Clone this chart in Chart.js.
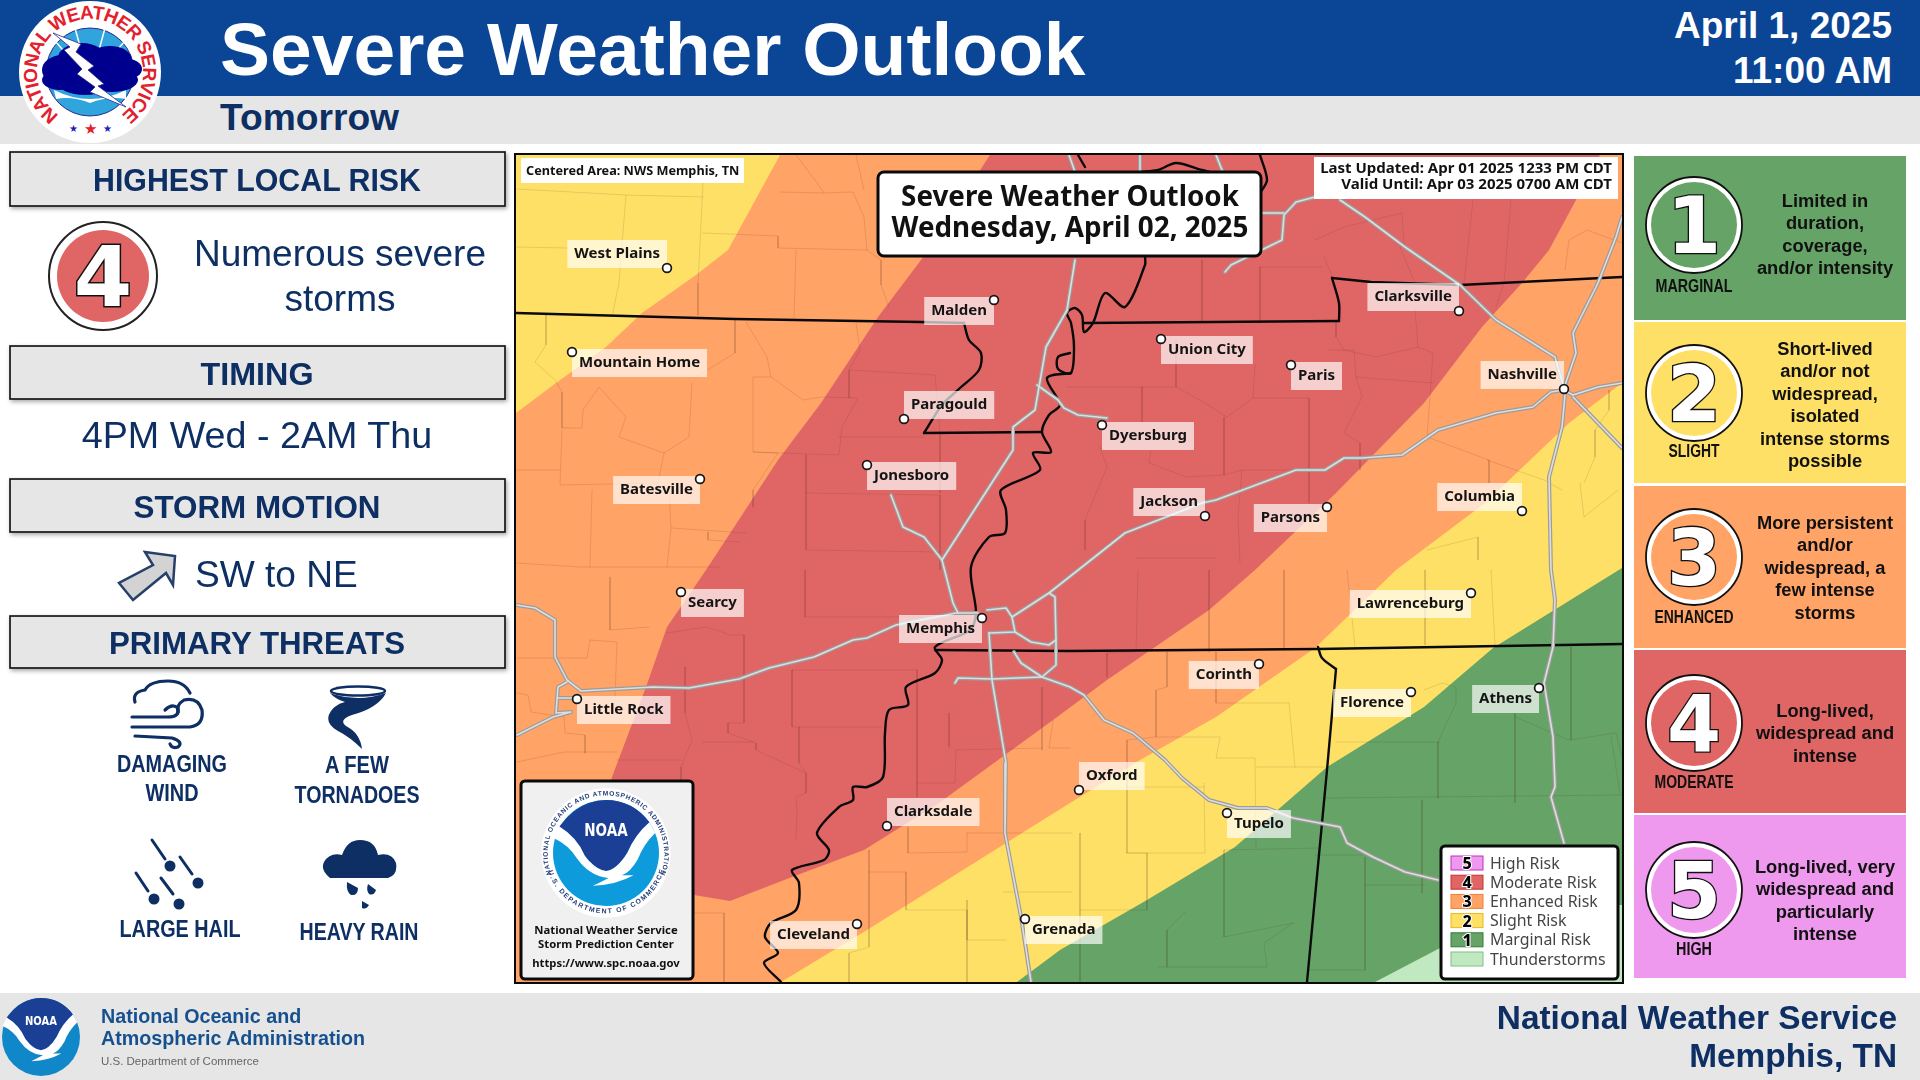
<!DOCTYPE html>
<html>
<head>
<meta charset="utf-8">
<title>Severe Weather Outlook</title>
<script src="https://cdn.jsdelivr.net/npm/chart.js@4"></script>
<style>
html, body { margin: 0; padding: 0; background: #fff; }
#page { position: relative; width: 1920px; height: 1080px; overflow: hidden; }
#mapWrap { position: absolute; left: 516px; top: 155px; width: 1106px; height: 827px; }
#overlay { position: absolute; left: 0; top: 0; pointer-events: none; }
text { font-family: "Liberation Sans", sans-serif; }
.narrow { font-weight: 700; }
.noto { font-family: "Noto Sans", sans-serif; }
</style>
</head>
<body>
<div id="page">
  <div id="mapWrap"><canvas id="mapChart" width="1106" height="827"></canvas></div>
  <svg id="overlay" width="1920" height="1080" viewBox="0 0 1920 1080"></svg>
</div>
<script>
// risk areas, in map units
const slightRisk = [[516,155],[1622,155],[1622,568],[1493,648],[1424,707],[1327,767],[1235,847],[1147,900],[1060,950],[1017,982],[516,982]];
const enhancedRisk = [[780,155],[728,250],[696,275],[642,313],[606,347],[556,383],[516,413],[516,982],[781,982],[867,930],[1070,803],[1140,760],[1216,717],[1315,648],[1396,570],[1485,503],[1569,423],[1622,383],[1622,155]];
const moderateRisk = [[990,155],[921,260],[878,317],[821,403],[778,460],[706,570],[667,627],[646,687],[612,777],[590,860],[640,885],[694,895],[730,901],[792,877],[864,850],[939,803],[1053,720],[1107,680],[1209,610],[1255,570],[1336,493],[1424,403],[1482,327],[1522,283],[1549,250],[1576,200],[1600,155]];
const marginalRisk = [[516,155],[1622,155],[1622,982],[516,982]];
const thunderArea = [[1375,982],[1442,947],[1520,905],[1622,905],[1622,982]];

const stateLines = [
  [[516,313],[735,319],[921,322],[964,323]],
  [[924,433],[1042,432]],
  [[1084,323],[1339,321]],
  [[1332,278],[1371,282],[1460,285],[1622,277]],
  [[935,650],[1070,651],[1318,649],[1622,644]],
  [[1336,669],[1327,770],[1307,982]]
];
const riverLines = [
  [[964,323],[969,340],[981,353],[979,370],[960,388],[942,405],[924,433]],
  [[1339,321],[1339,303],[1332,278]],
  [[1318,647],[1322,658],[1336,669]],
  [[1260,155],[1267,180],[1260,193]],
  [[1078,155],[1085,167]],
  [[1140,172],[1158,170],[1176,163],[1202,170],[1210,172]],
  [[1145,256],[1145,265],[1125,307],[1105,293],[1093,323],[1084,332],[1082,315],[1075,308],[1067,313],[1071,323],[1074,347],[1071,373],[1058,369],[1058,357],[1070,353]],
  [[1071,373],[1047,378],[1060,405],[1049,415],[1042,432],[1051,452],[1033,453],[1040,470],[1001,490],[1006,510],[1005,533],[989,537],[971,567],[976,613],[970,630],[935,647],[942,660],[935,673],[906,687],[908,705],[889,710],[885,733],[883,777],[867,787],[853,787],[853,800],[839,807],[817,833],[829,850],[824,860],[792,870],[799,883],[796,910],[771,923],[765,937],[778,953],[764,963],[781,982]]
];

const highways = [
  [[517,605],[535,608],[555,620],[555,657],[567,680],[581,691],[653,687],[689,688],[739,679],[769,668],[814,657],[853,640],[867,638],[896,625],[956,613],[978,613]],
  [[1012,617],[1049,593],[1082,567],[1125,533],[1202,503],[1216,500],[1296,470],[1325,470],[1344,458],[1362,458],[1402,455],[1438,430],[1496,413],[1533,407],[1551,392],[1564,390],[1573,395],[1598,387],[1622,383]],
  [[1564,388],[1576,353],[1573,333],[1598,283],[1616,237],[1622,217]],
  [[1564,388],[1555,357],[1496,320],[1460,285],[1405,247],[1365,217],[1340,200]],
  [[1315,197],[1296,202],[1284,215],[1282,240],[1231,265],[1225,272]],
  [[1262,213],[1284,213]],
  [[1565,395],[1562,427],[1549,477],[1551,570],[1555,600],[1553,647],[1544,683],[1553,737],[1555,787],[1551,797],[1564,843]],
  [[1573,397],[1622,448]],
  [[1042,677],[1070,687],[1084,695],[1104,720],[1133,733],[1165,760],[1182,778],[1209,800],[1238,808],[1267,808],[1293,818],[1340,827],[1347,843],[1373,857],[1405,872],[1438,880]],
  [[989,633],[992,680],[1006,763],[1005,833],[1021,917],[1031,982]],
  [[987,610],[1006,608],[1012,617],[1015,632],[989,633]],
  [[1015,632],[1031,642],[1049,645],[1056,640],[1055,597],[1049,593]],
  [[1056,640],[1056,665],[1042,677],[1021,663],[1014,652]],
  [[955,683],[958,678],[992,679],[1042,677]],
  [[942,560],[953,603],[958,613]],
  [[942,560],[1013,450],[1013,427],[1035,410],[1046,347],[1067,310],[1075,260]],
  [[1069,155],[1075,172]],
  [[1140,155],[1140,170]],
  [[1216,155],[1222,170]],
  [[1037,385],[1058,400],[1064,408],[1078,415],[1107,418]],
  [[891,495],[903,527],[924,537],[942,560]],
  [[517,735],[553,717],[571,712],[556,713],[558,687],[567,682]],
  [[558,698],[574,698]]
];

const countyLines = [
  [[517,189],[626,195],[703,197]], [[626,195],[619,283],[612,317]], [[703,183],[698,283],[698,315]],
  [[517,247],[567,248]], [[703,233],[778,236],[778,248],[867,250],[881,260],[881,285],[889,307]],
  [[780,192],[824,193],[853,192],[864,217],[867,250]], [[796,250],[794,318]], [[856,155],[864,190]],
  [[796,155],[815,180],[824,193]], [[546,315],[546,345],[535,362],[555,380],[562,392],[562,428],[582,428],[583,410],[599,387],[626,417],[619,437],[664,453],[689,437],[692,383]],
  [[735,320],[735,353],[696,377]], [[746,322],[767,357],[771,377],[803,400],[821,397],[858,398],[842,427],[839,455],[753,452],[753,377],[771,377]],
  [[849,370],[935,375],[940,433],[940,493]], [[856,323],[860,350],[849,370],[849,398]], [[839,437],[924,437]],
  [[806,455],[806,493],[940,495],[940,570]], [[806,493],[806,550],[942,552]], [[753,452],[778,453],[753,490],[753,507]],
  [[664,453],[658,483],[560,485],[562,430]], [[517,470],[560,470]], [[592,490],[590,567]],
  [[669,490],[671,528],[746,533]], [[708,532],[708,540],[739,542]], [[517,563],[581,567],[720,567]], [[671,528],[667,567]],
  [[610,577],[610,630],[649,627]], [[590,640],[617,642],[615,697]],
  [[667,633],[706,627],[731,635],[744,635],[744,677],[744,723],[728,723],[728,733],[756,743],[756,750],[806,773],[806,793],[796,797],[797,810],[796,840]],
  [[805,570],[805,617],[924,617]], [[792,670],[792,727],[881,727]], [[792,670],[917,670]], [[917,670],[917,797]],
  [[799,727],[799,763],[806,773]], [[685,667],[685,713],[692,740],[681,767],[681,783]], [[703,742],[753,742]],
  [[517,658],[587,658],[590,640]], [[517,693],[528,695],[531,712],[564,717],[565,733],[585,735],[585,753]],
  [[517,762],[564,752],[617,752]], [[681,760],[617,760]],
  [[908,827],[908,853],[967,852],[967,833]], [[869,872],[906,872],[906,910],[967,910],[967,940],[1006,940]],
  [[869,850],[869,947],[849,953],[849,982]], [[1042,748],[956,750],[955,783],[917,783]], [[949,713],[949,747]],
  [[967,833],[1072,833]], [[1003,892],[1072,892]], [[1042,687],[1042,750]], [[1053,720],[1049,748],[1070,748]],
  [[967,900],[967,982]], [[724,913],[724,982]], [[694,913],[724,913]],
  [[1209,570],[1209,652]], [[1284,570],[1284,650]], [[1347,570],[1355,647]], [[1425,570],[1425,645]], [[1491,570],[1495,645]],
  [[1138,570],[1136,652],[1107,653],[1107,677]],
  [[1167,652],[1167,687],[1156,690],[1156,737],[1127,740],[1127,853],[1147,853],[1147,910],[1080,910]],
  [[1216,652],[1216,703],[1289,703],[1295,767]], [[1220,737],[1156,737]], [[1220,738],[1216,758],[1255,758],[1256,848]],
  [[1204,787],[1127,787]], [[1204,783],[1205,853],[1127,853]], [[1256,767],[1327,767]], [[1224,850],[1318,848]],
  [[1224,850],[1224,937],[1293,923]], [[1185,912],[1167,930],[1167,967]], [[1158,967],[1267,967],[1264,943],[1293,923]],
  [[1080,833],[1080,982]], [[1325,798],[1622,795]], [[1438,742],[1438,798]], [[1440,742],[1336,742]],
  [[1438,742],[1456,703],[1456,687],[1442,683],[1424,690]], [[1515,713],[1515,803]],
  [[1515,717],[1569,740],[1616,733],[1622,757]], [[1571,647],[1571,740]], [[1611,737],[1620,793]], [[1422,800],[1422,893]],
  [[1365,857],[1365,970]], [[1315,855],[1362,855]], [[1365,885],[1424,885]], [[1307,970],[1365,970]],
  [[1260,267],[1260,322]], [[1260,267],[1322,267]], [[1202,260],[1202,322]], [[1315,240],[1344,227],[1402,213],[1404,247]],
  [[1324,257],[1333,278]], [[1400,247],[1415,283]], [[1473,200],[1464,283]], [[1511,200],[1504,283],[1496,307]],
  [[1415,310],[1418,347],[1433,353],[1429,410],[1427,437],[1489,460],[1489,483]],
  [[1336,322],[1336,337],[1344,350],[1376,357],[1418,347]], [[1329,350],[1354,350],[1356,377],[1433,383]],
  [[1356,377],[1362,397],[1344,433],[1360,443],[1360,470]], [[1176,340],[1176,387],[1067,387]],
  [[1255,365],[1253,398],[1309,398],[1309,503]], [[1176,387],[1205,403],[1227,417],[1253,398]], [[1142,387],[1142,422]],
  [[1224,417],[1224,475],[1242,470],[1315,470]], [[1151,450],[1149,463],[1187,477],[1224,475]],
  [[1100,447],[1107,467],[1085,520],[1085,550]], [[1136,558],[1216,558]], [[1242,470],[1238,517],[1240,563]],
  [[1427,550],[1478,537],[1478,560]], [[1487,460],[1544,480],[1562,490]], [[1580,483],[1584,517],[1618,490]],
  [[1595,430],[1595,457],[1584,483]], [[1565,270],[1569,240],[1587,230],[1622,243]], [[1609,390],[1609,410],[1595,430]]
];

const cityNames = ['West Plains','Malden','Mountain Home','Paragould','Batesville','Jonesboro','Searcy','Little Rock','Memphis','Clarksdale','Cleveland','Grenada','Union City','Paris','Clarksville','Nashville','Dyersburg','Jackson','Parsons','Columbia','Lawrenceburg','Corinth','Florence','Athens','Oxford','Tupelo'];
const cityX = [667,994,572,904,700,867,681,577,982,887,857,1025,1161,1291,1459,1564,1102,1205,1327,1522,1471,1259,1411,1539,1079,1227];
const cityY = [268,300,352,419,479,465,592,699,618,826,924,919,339,365,311,389,425,516,507,511,593,664,692,688,790,813];
const citySide = ['nw','sw','se','ne','sw','se','se','se','sw','ne','sw','se','se','se','nw','nw','se','nw','sw','nw','sw','sw','sw','sw','ne','se'];

const RISK_COLORS = { tstm: '#C1E9C1', mrgl: '#66A366', slgt: '#FFE066', enh: '#FFA366', mdt: '#E06666', high: '#EE99EE' };
const NAVY = '#0D2F63';

function toPoints(list) {
    return list.map(p => ({ x: p[0], y: p[1] }));
}

function areaDataset(list, color) {
    return { data: toPoints(list), fill: 'shape', backgroundColor: color, borderWidth: 0, pointRadius: 0, tension: 0 };
}

function lineDataset(list, color, width, tension) {
    return { data: toPoints(list), fill: false, borderColor: color, borderWidth: width, pointRadius: 0, tension: tension || 0, borderCapStyle: 'round', borderJoinStyle: 'round' };
}

// painted bottom to top
const layers = [];
layers.push(areaDataset(marginalRisk, RISK_COLORS.mrgl));
layers.push(areaDataset(thunderArea, RISK_COLORS.tstm));
layers.push(areaDataset(slightRisk, RISK_COLORS.slgt));
layers.push(areaDataset(enhancedRisk, RISK_COLORS.enh));
layers.push(areaDataset(moderateRisk, RISK_COLORS.mdt));
countyLines.forEach(l => layers.push(lineDataset(l, 'rgba(60,40,20,0.13)', 1)));
stateLines.forEach(l => layers.push(lineDataset(l, '#0a0a0a', 2.4)));
riverLines.forEach(l => layers.push(lineDataset(l, '#0a0a0a', 2.4, 0.3)));
highways.forEach(l => layers.push(lineDataset(l, '#9c9c9c', 4)));
highways.forEach(l => layers.push(lineDataset(l, '#dedede', 1.6)));
layers.push({
    id: 'cities',
    data: cityX.map((x, i) => ({ x: x, y: cityY[i] })),
    showLine: false,
    fill: false,
    pointRadius: 4.4,
    pointBackgroundColor: '#fff',
    pointBorderColor: '#161616',
    pointBorderWidth: 1.7
});
layers.forEach((d, i) => { d.order = layers.length - i; });

const cityLabels = {
    id: 'cityLabels',
    beforeDatasetDraw(chart, args) {
        if (chart.data.datasets[args.index].id !== 'cities') return;
        const ctx = chart.ctx;
        const xs = chart.scales.x, ys = chart.scales.y;
        ctx.save();
        ctx.font = '700 15px "Noto Sans"';
        ctx.textBaseline = 'middle';
        ctx.textAlign = 'left';
        cityNames.forEach((name, i) => {
            const px = xs.getPixelForValue(cityX[i]), py = ys.getPixelForValue(cityY[i]);
            const w = ctx.measureText(name).width + 14, h = 28;
            const left = citySide[i].includes('w') ? px - w : px;
            const top = citySide[i].includes('n') ? py - h : py - 3;
            ctx.fillStyle = 'rgba(255,255,255,0.68)';
            ctx.fillRect(left, top, w, h);
            ctx.fillStyle = '#141414';
            ctx.fillText(name, left + 7, top + h / 2);
        });
        ctx.restore();
    }
};

new Chart(document.getElementById('mapChart'), {
    type: 'line',
    data: { datasets: layers },
    options: {
        responsive: false,
        animation: false,
        devicePixelRatio: 1,
        parsing: { xAxisKey: 'x', yAxisKey: 'y' },
        layout: { padding: 0, autoPadding: false },
        plugins: { legend: { display: false }, tooltip: { enabled: false } },
        scales: {
            x: { type: 'linear', display: false, min: 516, max: 1622 },
            y: { type: 'linear', display: false, min: 155, max: 982, reverse: true }
        }
    },
    plugins: [cityLabels]
});

// everything around the map
const riskPanels = [
    { top: 156, bottom: 320, color: RISK_COLORS.mrgl, digit: '1', name: 'MARGINAL', nameW: 77, cy: 225, nameY: 292, textY: 207, lines: ['Limited in','duration,','coverage,','and/or intensity'] },
    { top: 322, bottom: 483, color: RISK_COLORS.slgt, digit: '2', name: 'SLIGHT', nameW: 51, cy: 393, nameY: 457, textY: 355, lines: ['Short-lived','and/or not','widespread,','isolated','intense storms','possible'] },
    { top: 486, bottom: 648, color: RISK_COLORS.enh, digit: '3', name: 'ENHANCED', nameW: 79, cy: 557, nameY: 623, textY: 529, lines: ['More persistent','and/or','widespread, a','few intense','storms'] },
    { top: 650, bottom: 813, color: RISK_COLORS.mdt, digit: '4', name: 'MODERATE', nameW: 79, cy: 723, nameY: 788, textY: 717, lines: ['Long-lived,','widespread and','intense'] },
    { top: 815, bottom: 978, color: RISK_COLORS.high, digit: '5', name: 'HIGH', nameW: 36, cy: 890, nameY: 955, textY: 873, lines: ['Long-lived, very','widespread and','particularly','intense'] }
];
const legendRows = [
    ['5', 'High Risk', RISK_COLORS.high, '#c030c0'],
    ['4', 'Moderate Risk', RISK_COLORS.mdt, '#c83030'],
    ['3', 'Enhanced Risk', RISK_COLORS.enh, '#f08030'],
    ['2', 'Slight Risk', RISK_COLORS.slgt, '#e8b820'],
    ['1', 'Marginal Risk', RISK_COLORS.mrgl, '#2f8030'],
    ['', 'Thunderstorms', RISK_COLORS.tstm, '#80c080']
];
const sideHeads = [['HIGHEST LOCAL RISK', 152, 206, 328], ['TIMING', 346, 399, 113], ['STORM MOTION', 479, 532, 247], ['PRIMARY THREATS', 616, 668, 296]];
const threatLabels = [
    ['DAMAGING', 172, 772, 110], ['WIND', 172, 801, 53], ['A FEW', 357, 773, 64], ['TORNADOES', 357, 803, 125],
    ['LARGE HAIL', 180, 937, 121], ['HEAVY RAIN', 359, 940, 119]
];

function riskBadge(cx, cy, r, digit, color) {
    return `<circle cx="${cx}" cy="${cy}" r="${r}" fill="#fff" stroke="#111" stroke-width="1.8"/>
      <circle cx="${cx}" cy="${cy}" r="${r - 5}" fill="${color}"/>
      <text x="${cx}" y="${cy + r * 0.58}" text-anchor="middle" font-size="${r * 1.62}" stroke="#111" stroke-width="${r * 0.055}" paint-order="stroke"
        fill="#fff" style="font-family:'DejaVu Sans';font-weight:700">${digit}</text>`;
}

function noaaLogo(cx, cy, r, withRing) {
    const s = r / 100;
    let ring = '';
    if (withRing) {
        ring = `<circle r="122" fill="#fff"/>
          <path id="ringTop" d="M -103 40 A 110 110 0 1 1 103 40" fill="none"/>
          <path id="ringBot" d="M -112 25 A 115 115 0 0 0 112 25" fill="none"/>
          <text font-size="12.5" fill="#27407a" font-weight="700"><textPath href="#ringTop" textLength="425">NATIONAL OCEANIC AND ATMOSPHERIC ADMINISTRATION</textPath></text>
          <text font-size="13" fill="#27407a" font-weight="700"><textPath href="#ringBot" startOffset="10" textLength="290">U.S. DEPARTMENT OF COMMERCE</textPath></text>`;
    }
    return `<g transform="translate(${cx},${cy}) scale(${s})">${ring}
      <circle r="100" fill="${withRing ? '#0d9bdc' : '#1087c9'}"/>
      <path d="M-88,-50 Q-50,-100 0,-100 Q50,-100 82,-58 Q55,-35 40,0 Q20,32 0,34 Q-20,32 -40,5 Q-55,-30 -88,-50 Z" fill="#1b3f94"/>
      <path d="M-98,-28 L-88,-50 Q-55,-30 -40,5 Q-20,32 0,34 Q20,32 40,0 Q55,-35 82,-58 L93,-38 Q70,-15 60,12 Q45,38 30,42 L52,42 Q20,60 -25,62 Q0,50 5,47 Q-30,45 -55,10 Q-70,-15 -98,-28 Z" fill="#fff"/>
      <text y="-32" text-anchor="middle" font-size="33" font-weight="700" fill="#fff" style="font-family:'DejaVu Sans'" textLength="82" lengthAdjust="spacingAndGlyphs">NOAA</text>
    </g>`;
}

let html = `
<defs><filter id="boxShadow" x="-5%" y="-20%" width="110%" height="150%"><feDropShadow dx="1.5" dy="2" stdDeviation="2" flood-color="#000" flood-opacity="0.35"/></filter></defs>
<rect x="0" y="0" width="1920" height="96" fill="#0B4595"/>
<rect x="0" y="96" width="1920" height="48" fill="#E6E6E6"/>
<rect x="0" y="993" width="1920" height="87" fill="#E6E6E6"/>
<rect x="515" y="154" width="1108" height="829" fill="none" stroke="#0a0a0a" stroke-width="2"/>

<g transform="translate(90,72)">
  <circle r="71" fill="#fff"/>
  <path id="nwsArc" d="M -31 43 A 53 53 0 1 1 31 43" fill="none"/>
  <text font-size="19" font-weight="700" fill="#E4202C"><textPath href="#nwsArc" textLength="266">NATIONAL WEATHER SERVICE</textPath></text>
  <circle r="44" fill="#2FA4DD" stroke="#2b2b8c" stroke-width="1"/>
  <path d="M-15,-44 L-9,-22 M15,-44 L9,-22 M-34,-30 L-22,-16 M34,-30 L22,-16" stroke="#fff" stroke-width="1.5"/>
  <path d="M-36,18 Q0,36 36,18 L36,27 Q18,24 0,31 Q-18,24 -34,27 Z" fill="#fff"/>
  <g fill="#00008F"><ellipse cx="-28" cy="-2" rx="20" ry="15"/><ellipse cx="-8" cy="-14" rx="24" ry="15"/><ellipse cx="20" cy="-12" rx="22" ry="14"/><ellipse cx="38" cy="-3" rx="14" ry="10"/><ellipse cx="-30" cy="8" rx="18" ry="10"/><ellipse cx="-5" cy="10" rx="28" ry="13"/><ellipse cx="22" cy="8" rx="26" ry="12"/></g>
  <path d="M-37,-39 L-9,-28 L-14,-20 L4,-6 L-2,-2 L14,12 L8,14 L36,35 L0,20 L5,15 L-13,2 L-8,-3 L-26,-22 L-20,-25 Z" fill="#fff" stroke="#2b2b8c" stroke-width="0.8"/>
  <text x="-17" y="60" font-size="10" fill="#2020b0" text-anchor="middle">★</text>
  <text x="-0" y="62" font-size="15" fill="#E4202C" text-anchor="middle">★</text>
  <text x="17" y="60" font-size="10" fill="#2020b0" text-anchor="middle">★</text>
</g>

<text x="220" y="75" font-size="75" font-weight="700" fill="#fff">Severe Weather Outlook</text>
<text x="220" y="130" font-size="37.2" font-weight="700" fill="${NAVY}">Tomorrow</text>
<text x="1892" y="38" font-size="37" font-weight="700" fill="#fff" text-anchor="end">April 1, 2025</text>
<text x="1892" y="83" font-size="37" font-weight="700" fill="#fff" text-anchor="end">11:00 AM</text>

<g transform="translate(103,276)">
  <circle r="54" fill="#fff" stroke="#222" stroke-width="2"/><circle r="46" fill="${RISK_COLORS.mdt}"/>
  <text y="30" text-anchor="middle" font-size="84" stroke="#111" stroke-width="3" paint-order="stroke" fill="#fff" style="font-family:'DejaVu Sans';font-weight:700">4</text>
</g>
<text x="340" y="266" font-size="37" fill="${NAVY}" text-anchor="middle">Numerous severe</text>
<text x="340" y="311" font-size="37" fill="${NAVY}" text-anchor="middle">storms</text>
<text x="257" y="448" font-size="37.7" fill="${NAVY}" text-anchor="middle">4PM Wed - 2AM Thu</text>
<polygon points="145,552 175,556 173,585 166,573 133,600 119,583 153,565" fill="#D3D3D3" stroke="#26406b" stroke-width="2.5"/>
<text x="195" y="587" font-size="37.1" fill="${NAVY}">SW to NE</text>

<g fill="none" stroke="${NAVY}" stroke-width="3.2" stroke-linecap="round">
  <path d="M135,702 Q132,692 145,690 Q150,681 168,681 Q184,681 190,693"/>
  <path d="M132,717 L168,717 Q180,717 178,708 Q172,703 165,710"/>
  <path d="M132,727 L190,727 Q204,725 202,710 Q198,697 184,700 Q176,705 178,712"/>
  <path d="M135,736 L172,738 Q184,742 178,747 Q172,749 170,744"/>
</g>
<g fill="${NAVY}">
  <ellipse cx="358" cy="691" rx="27" ry="4.5" fill="none" stroke="${NAVY}" stroke-width="2.5"/>
  <path d="M330,693 Q358,703 386,693 Q378,708 352,715 Q338,720 346,726 Q360,733 362,749 Q350,737 338,731 Q323,722 331,711 Q336,704 345,702 Q335,699 330,693 Z"/>
  <circle cx="170" cy="866" r="5.5"/><circle cx="198" cy="883" r="5.5"/><circle cx="154" cy="899" r="5.5"/><circle cx="179" cy="904" r="5.5"/>
  <path d="M330,878 Q320,870 324,862 Q330,852 342,855 Q347,840 360,840 Q375,840 378,855 Q392,852 396,863 Q398,875 388,878 Z"/>
  <path d="M347,882 L358,888 Q358,896 351,895 Q346,892 347,882 Z M368,884 L376,890 Q374,896 369,894 Q366,890 368,884 Z M362,901 L369,905 Q366,910 362,908 Z"/>
</g>
<g stroke="${NAVY}" stroke-width="3" stroke-linecap="round">
  <line x1="152" y1="840" x2="165" y2="859"/><line x1="180" y1="857" x2="192" y2="874"/><line x1="136" y1="873" x2="148" y2="891"/><line x1="161" y1="878" x2="173" y2="894"/>
</g>

<text x="101" y="1023" font-size="19.7" font-weight="700" fill="#15508F">National Oceanic and</text>
<text x="101" y="1045" font-size="19.7" font-weight="700" fill="#15508F">Atmospheric Administration</text>
<text x="101" y="1065" font-size="11.5" fill="#666">U.S. Department of Commerce</text>
<text x="1897" y="1029" font-size="33.4" font-weight="700" fill="${NAVY}" text-anchor="end">National Weather Service</text>
<text x="1897" y="1067" font-size="33.4" font-weight="700" fill="${NAVY}" text-anchor="end">Memphis, TN</text>
${noaaLogo(41, 1037, 39, false)}

<rect x="521" y="158" width="223" height="25" fill="#fff"/>
<text class="noto" x="526" y="175" font-size="12.7" font-weight="700" fill="#111">Centered Area: NWS Memphis, TN</text>
<rect x="1314" y="157" width="304" height="42" fill="#fff"/>
<text class="noto" x="1612" y="173" font-size="15" font-weight="700" fill="#111" text-anchor="end">Last Updated: Apr 01 2025 1233 PM CDT</text>
<text class="noto" x="1612" y="189" font-size="15" font-weight="700" fill="#111" text-anchor="end">Valid Until: Apr 03 2025 0700 AM CDT</text>
<rect x="878" y="172" width="383" height="84" rx="6" fill="#fff" stroke="#0a0a0a" stroke-width="3"/>
<text class="noto" x="1070" y="206" font-size="27.8" font-weight="700" fill="#111" text-anchor="middle">Severe Weather Outlook</text>
<text class="noto" x="1070" y="237" font-size="27.8" font-weight="700" fill="#111" text-anchor="middle">Wednesday, April 02, 2025</text>

<rect x="521" y="781" width="172" height="198" rx="4" fill="#F0F0F0" stroke="#0a0a0a" stroke-width="3"/>
${noaaLogo(606, 853, 53, true)}
<text class="noto" x="606" y="934" font-size="11.3" font-weight="700" fill="#111" text-anchor="middle">National Weather Service</text>
<text class="noto" x="606" y="948" font-size="11.3" font-weight="700" fill="#111" text-anchor="middle">Storm Prediction Center</text>
<text class="noto" x="606" y="967" font-size="11.3" font-weight="700" fill="#111" text-anchor="middle">https://www.spc.noaa.gov</text>

<rect x="1441" y="846" width="177" height="133" rx="4" fill="#fff" stroke="#0a0a0a" stroke-width="3"/>
`;

sideHeads.forEach(h => {
    html += `<rect x="10" y="${h[1]}" width="495" height="${h[2] - h[1]}" fill="#E6E6E6" stroke="#0a0a0a" stroke-width="1.6" filter="url(#boxShadow)"/>
      <text class="narrow" x="257" y="${(h[1] + h[2]) / 2 + 12}" font-size="32" fill="${NAVY}" text-anchor="middle" textLength="${h[3]}" lengthAdjust="spacingAndGlyphs">${h[0]}</text>`;
});

threatLabels.forEach(t => {
    html += `<text class="narrow" x="${t[1]}" y="${t[2]}" font-size="24" fill="${NAVY}" text-anchor="middle" textLength="${t[3]}" lengthAdjust="spacingAndGlyphs">${t[0]}</text>`;
});

riskPanels.forEach(p => {
    html += `<rect x="1634" y="${p.top}" width="272" height="${p.bottom - p.top}" fill="${p.color}"/>`;
    html += riskBadge(1694, p.cy, 48, p.digit, p.color);
    html += `<text class="narrow" x="1694" y="${p.nameY}" font-size="18" fill="#111" text-anchor="middle" textLength="${p.nameW}" lengthAdjust="spacingAndGlyphs">${p.name}</text>`;
    p.lines.forEach((line, i) => {
        html += `<text x="1825" y="${p.textY + i * 22.4}" font-size="18.3" font-weight="700" fill="#111" text-anchor="middle">${line}</text>`;
    });
});

legendRows.forEach((row, i) => {
    const y = 863 + i * 19.2;
    html += `<rect x="1451" y="${y - 7}" width="32" height="14" fill="${row[2]}" stroke="${row[3]}" stroke-width="1"/>`;
    if (row[0]) {
        html += `<text class="noto" x="1467" y="${y + 6}" font-size="16" font-weight="800" fill="#000" stroke="#fff" stroke-width="2" paint-order="stroke" text-anchor="middle">${row[0]}</text>`;
    }
    html += `<text class="noto" x="1490" y="${y + 5.5}" font-size="15.9" fill="#444">${row[1]}</text>`;
});

document.getElementById('overlay').innerHTML = html;
</script>
</body>
</html>
